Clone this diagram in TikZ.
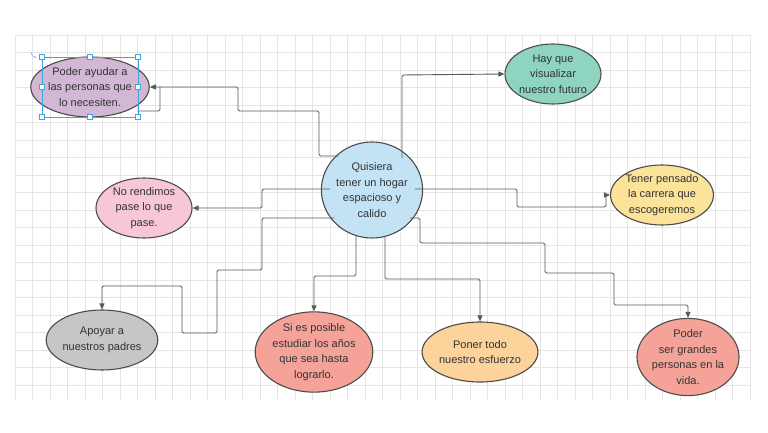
\documentclass[tikz,border=0pt]{standalone}
\usepackage{fontspec}
\setmainfont{Liberation Sans}
\usetikzlibrary{shapes.geometric,arrows.meta}
\definecolor{cblue}{HTML}{C3E3F5}
\definecolor{cpurp}{HTML}{D2B8D4}
\definecolor{cteal}{HTML}{8ED4C0}
\definecolor{cpink}{HTML}{F7C7D6}
\definecolor{cyell}{HTML}{FBE39A}
\definecolor{cgray}{HTML}{C6C6C6}
\definecolor{csalm}{HTML}{F5A399}
\definecolor{corng}{HTML}{FBD39B}
\definecolor{sel}{HTML}{3FA3DC}
\begin{document}
\begin{tikzpicture}[x=1pt,y=-1pt,
  bub/.style={ellipse,draw=black!70,line width=1.1pt,inner sep=0pt,align=center,
    font=\fontsize{11}{15.5}\selectfont,text=black!80},
  con/.style={draw=black!65,line width=0.9pt,rounded corners=1.5pt},
  arr/.style={con,-{Triangle[length=6pt,width=5pt]}},
  hnd/.style={draw=sel,fill=white,minimum size=5pt,inner sep=0pt,line width=0.6pt}]
\useasboundingbox (0,0) rectangle (768,433);
\fill[white] (0,0) rectangle (768,433);
\foreach \i in {0,...,42} \draw[black!10,line width=0.4pt] (15+\i*17.5,35) -- (15+\i*17.5,400);
\foreach \j in {0,...,20} \draw[black!10,line width=0.4pt] (15,35+\j*17.5) -- (750,35+\j*17.5);
% nodes
\node[bub,fill=cblue,minimum width=86,minimum height=96] (c) at (372,190) {Quisiera\\tener un hogar\\espacioso y\\calido};
\node[bub,fill=cpurp,minimum width=96,minimum height=60] (a) at (90,87) {Poder ayudar a\\las personas que\\lo necesiten.};
\node[bub,fill=cteal,minimum width=86,minimum height=60] (b) at (553,74) {Hay que\\visualizar\\nuestro futuro};
\node[bub,fill=cpink,minimum width=96,minimum height=60] (n) at (144,208) {No rendimos\\pase lo que\\pase.};
\node[bub,fill=cyell,minimum width=86,minimum height=60] (d) at (662,195) {Tener pensado\\la carrera que\\escogeremos};
\node[bub,fill=cgray,minimum width=96,minimum height=60] (e) at (102,340) {Apoyar a\\nuestros padres};
\node[bub,fill=csalm,minimum width=92,minimum height=72] (f) at (314,352) {Si es posible\\estudiar los años\\que sea hasta\\lograrlo.};
\node[bub,fill=corng,minimum width=106,minimum height=60] (g) at (480,352) {Poner todo\\nuestro esfuerzo};
\node[bub,fill=csalm,minimum width=94,minimum height=74] (h) at (688,357) {Poder\\ser grandes\\personas en la\\vida.};
% selection box
\draw[sel,line width=0.7pt] (42,57) rectangle (138,117);
\foreach \p in {(42,57),(90,57),(138,57),(42,87),(138,87),(42,117),(90,117),(138,117)}
  \node[hnd] at \p {};
\draw[sel!60,line width=0.8pt,-{Stealth[length=3pt]}] (31,52) arc[start angle=180,end angle=80,radius=5];
% connectors
\coordinate (cA) at (338,156);
\draw[arr] (cA) -- (319,156) -- (319,111) -- (238,111) -- (238,87) -- (a.east);
\draw[con] (160,87) -- (160,111) -- (138,111);
\draw[arr] (402,158) -- (402,75) -- (b.west);
\draw[arr] (330,189) -- (262,189) -- (262,208) -- (n.east);
\draw[arr] (415,189) -- (517,189) -- (517,207) -- (606,207) -- (606,195) -- (d.west);
\draw[arr] (334,218) -- (262,218) -- (262,270) -- (217,270) -- (217,333) -- (182,333) -- (182,286) -- (102,286) -- (e.north);
\draw[arr] (356,236) -- (356,276) -- (314,276) -- (f.north);
\draw[arr] (385,236) -- (385,279) -- (480,279) -- (g.north);
\draw[arr] (410,218) -- (420,218) -- (420,243) -- (545,243) -- (545,273) -- (614,273) -- (614,305) -- (688,305) -- (h.north);
\end{tikzpicture}
\end{document}
